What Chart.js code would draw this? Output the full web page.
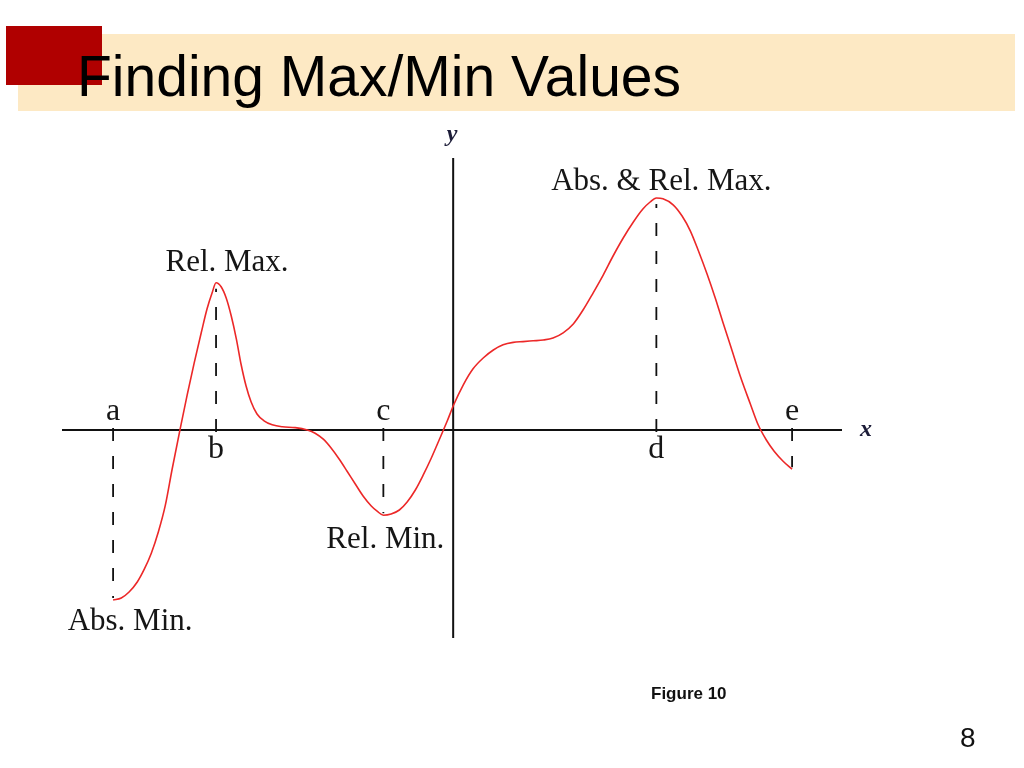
<!DOCTYPE html>
<html>
<head>
<meta charset="utf-8">
<script src="https://cdn.jsdelivr.net/npm/chart.js@4.4.1/dist/chart.umd.min.js"></script>
<style>
  html, body { margin: 0; padding: 0; background: #fff; }
  #slide { position: relative; width: 1024px; height: 768px; overflow: hidden; }
  #band { position: absolute; left: 18px; top: 34px; width: 997px; height: 77px; background: #fde9c4; }
  #redbox { position: absolute; left: 6px; top: 26px; width: 96px; height: 59px; background: #b00000; }
  #title { position: absolute; left: 77px; top: 48px; font: 57px/57px "Liberation Sans", Arial, sans-serif; color: #000; white-space: nowrap; }
  #fig { position: absolute; left: 651px; top: 684px; font: bold 17px/20px "Liberation Sans", Arial, sans-serif; color: #111; }
  #page { position: absolute; left: 960px; top: 723px; font: 28px/30px "Liberation Sans", Arial, sans-serif; color: #111; }
  canvas { position: absolute; left: 0; top: 0; }
</style>
</head>
<body>
<div id="slide">
  <div id="band"></div>
  <div id="redbox"></div>
  <div id="title">Finding Max/Min Values</div>
  <canvas id="graph" width="1024" height="768"></canvas>
  <div id="fig">Figure 10</div>
  <div id="page">8</div>
</div>
<script>
// curve (origin where the axes cross)
const curveX = [
  -8.72, -8.51, -8.31, -8.10, -7.92, -7.74, -7.56, -7.38, -7.21, -7.00, -6.82, -6.64, -6.46, -6.31, -6.18, -6.08,
  -5.95, -5.82, -5.69, -5.56, -5.44, -5.31, -5.18, -5.03, -4.85, -4.64, -4.38, -4.05, -3.74,
  -3.54, -3.33, -3.13, -2.92, -2.72, -2.51, -2.31, -2.10, -1.95, -1.79,
  -1.59, -1.38, -1.18, -0.97, -0.77, -0.56, -0.36, -0.15, 0.00,
  0.26, 0.51, 0.77, 1.03, 1.28, 1.54, 1.79, 2.05, 2.31, 2.56, 2.82, 3.08, 3.33, 3.59, 3.85,
  4.10, 4.36, 4.62, 4.87, 5.05, 5.21,
  5.38, 5.64, 5.87, 6.08, 6.28, 6.51, 6.72, 6.92, 7.13, 7.36, 7.62, 7.82, 8.03, 8.23, 8.46, 8.69
];
const curveY = [
  -4.25, -4.20, -4.05, -3.80, -3.48, -3.08, -2.55, -1.88, -1.00, 0.03, 0.88, 1.68, 2.43, 3.03, 3.43, 3.68,
  3.58, 3.30, 2.85, 2.28, 1.65, 1.10, 0.70, 0.40, 0.23, 0.13, 0.08, 0.06, 0.00,
  -0.08, -0.23, -0.45, -0.73, -1.03, -1.35, -1.65, -1.90, -2.03, -2.13,
  -2.10, -2.00, -1.80, -1.50, -1.13, -0.70, -0.25, 0.23, 0.60,
  1.13, 1.53, 1.80, 2.00, 2.13, 2.19, 2.21, 2.23, 2.25, 2.30, 2.43, 2.65, 3.00, 3.43, 3.88,
  4.35, 4.80, 5.20, 5.53, 5.70, 5.80,
  5.78, 5.63, 5.35, 4.98, 4.50, 3.90, 3.30, 2.68, 2.05, 1.35, 0.65, 0.13, -0.25, -0.53, -0.78, -0.98
];

// marked x positions and their names
const markNames = ['a', 'b', 'c', 'd', 'e'];
const markX = [-8.72, -6.08, -1.79, 5.21, 8.69];
const markY = [-4.25, 3.68, -2.13, 5.80, -0.98];

// extremum captions, one per marked point ('' = none)
const markCaptions = ['Abs. Min.', 'Rel. Max.', 'Rel. Min.', 'Abs. & Rel. Max.', ''];

const xRange = [-10.03, 9.97];
const yRange = [-5.2, 6.8];

// caption placement relative to the point (px)
const captionOffset = [[17, 30], [11, -12], [2, 33], [5, -8], [0, 0]];

const figurePlugin = {
  id: 'figurePlugin',
  beforeDatasetsDraw(chart) {
    const { ctx, chartArea, scales } = chart;
    const x0 = scales.x.getPixelForValue(0);
    const y0 = scales.y.getPixelForValue(0);
    ctx.save();
    ctx.strokeStyle = '#111';
    ctx.lineWidth = 2;
    ctx.beginPath();
    ctx.moveTo(chartArea.left, y0);
    ctx.lineTo(chartArea.right, y0);
    ctx.moveTo(x0, chartArea.top);
    ctx.lineTo(x0, chartArea.bottom);
    ctx.stroke();

    // dashed drop lines from the axis to each marked point
    ctx.lineWidth = 1.8;
    ctx.setLineDash([13, 15]);
    markX.forEach((mx, i) => {
      const px = scales.x.getPixelForValue(mx);
      const py = scales.y.getPixelForValue(markY[i]);
      ctx.beginPath();
      ctx.moveTo(px, y0 + (markY[i] > 0 ? 2 : -2));
      ctx.lineTo(px, py + (markY[i] > 0 ? 6 : -2));
      ctx.stroke();
    });
    ctx.restore();
  },
  afterDatasetsDraw(chart) {
    const { ctx, chartArea, scales } = chart;
    const x0 = scales.x.getPixelForValue(0);
    const y0 = scales.y.getPixelForValue(0);
    ctx.save();
    ctx.fillStyle = '#161616';
    ctx.textAlign = 'center';
    ctx.textBaseline = 'alphabetic';

    ctx.font = '32px "Liberation Serif", "Times New Roman", serif';
    markNames.forEach((name, i) => {
      const px = scales.x.getPixelForValue(markX[i]);
      ctx.fillText(name, px, markY[i] > 0 ? y0 + 28 : y0 - 10);
    });

    ctx.font = '31px "Liberation Serif", "Times New Roman", serif';
    markCaptions.forEach((cap, i) => {
      if (!cap) return;
      const px = scales.x.getPixelForValue(markX[i]);
      const py = scales.y.getPixelForValue(markY[i]);
      ctx.fillText(cap, px + captionOffset[i][0], py + captionOffset[i][1]);
    });

    ctx.fillStyle = '#1c1c38';
    ctx.font = 'italic bold 24px "Liberation Serif", "Times New Roman", serif';
    ctx.fillText('x', chartArea.right + 24, y0 + 6);
    ctx.fillText('y', x0 - 1, chartArea.top - 17);
    ctx.restore();
  }
};

new Chart(document.getElementById('graph'), {
  type: 'line',
  data: {
    datasets: [{
      data: curveX.map((x, i) => ({ x: x, y: curveY[i] })),
      borderColor: 'rgb(236, 40, 40)',
      borderWidth: 1.6,
      pointRadius: 0,
      cubicInterpolationMode: 'monotone',
      fill: false
    }]
  },
  options: {
    responsive: false,
    animation: false,
    layout: { padding: { left: 62, right: 182, top: 158, bottom: 130 } },
    scales: {
      x: { type: 'linear', min: xRange[0], max: xRange[1], display: false },
      y: { type: 'linear', min: yRange[0], max: yRange[1], display: false }
    },
    plugins: {
      legend: { display: false },
      tooltip: { enabled: false },
      title: { display: false }
    }
  },
  plugins: [figurePlugin]
});
</script>
</body>
</html>
